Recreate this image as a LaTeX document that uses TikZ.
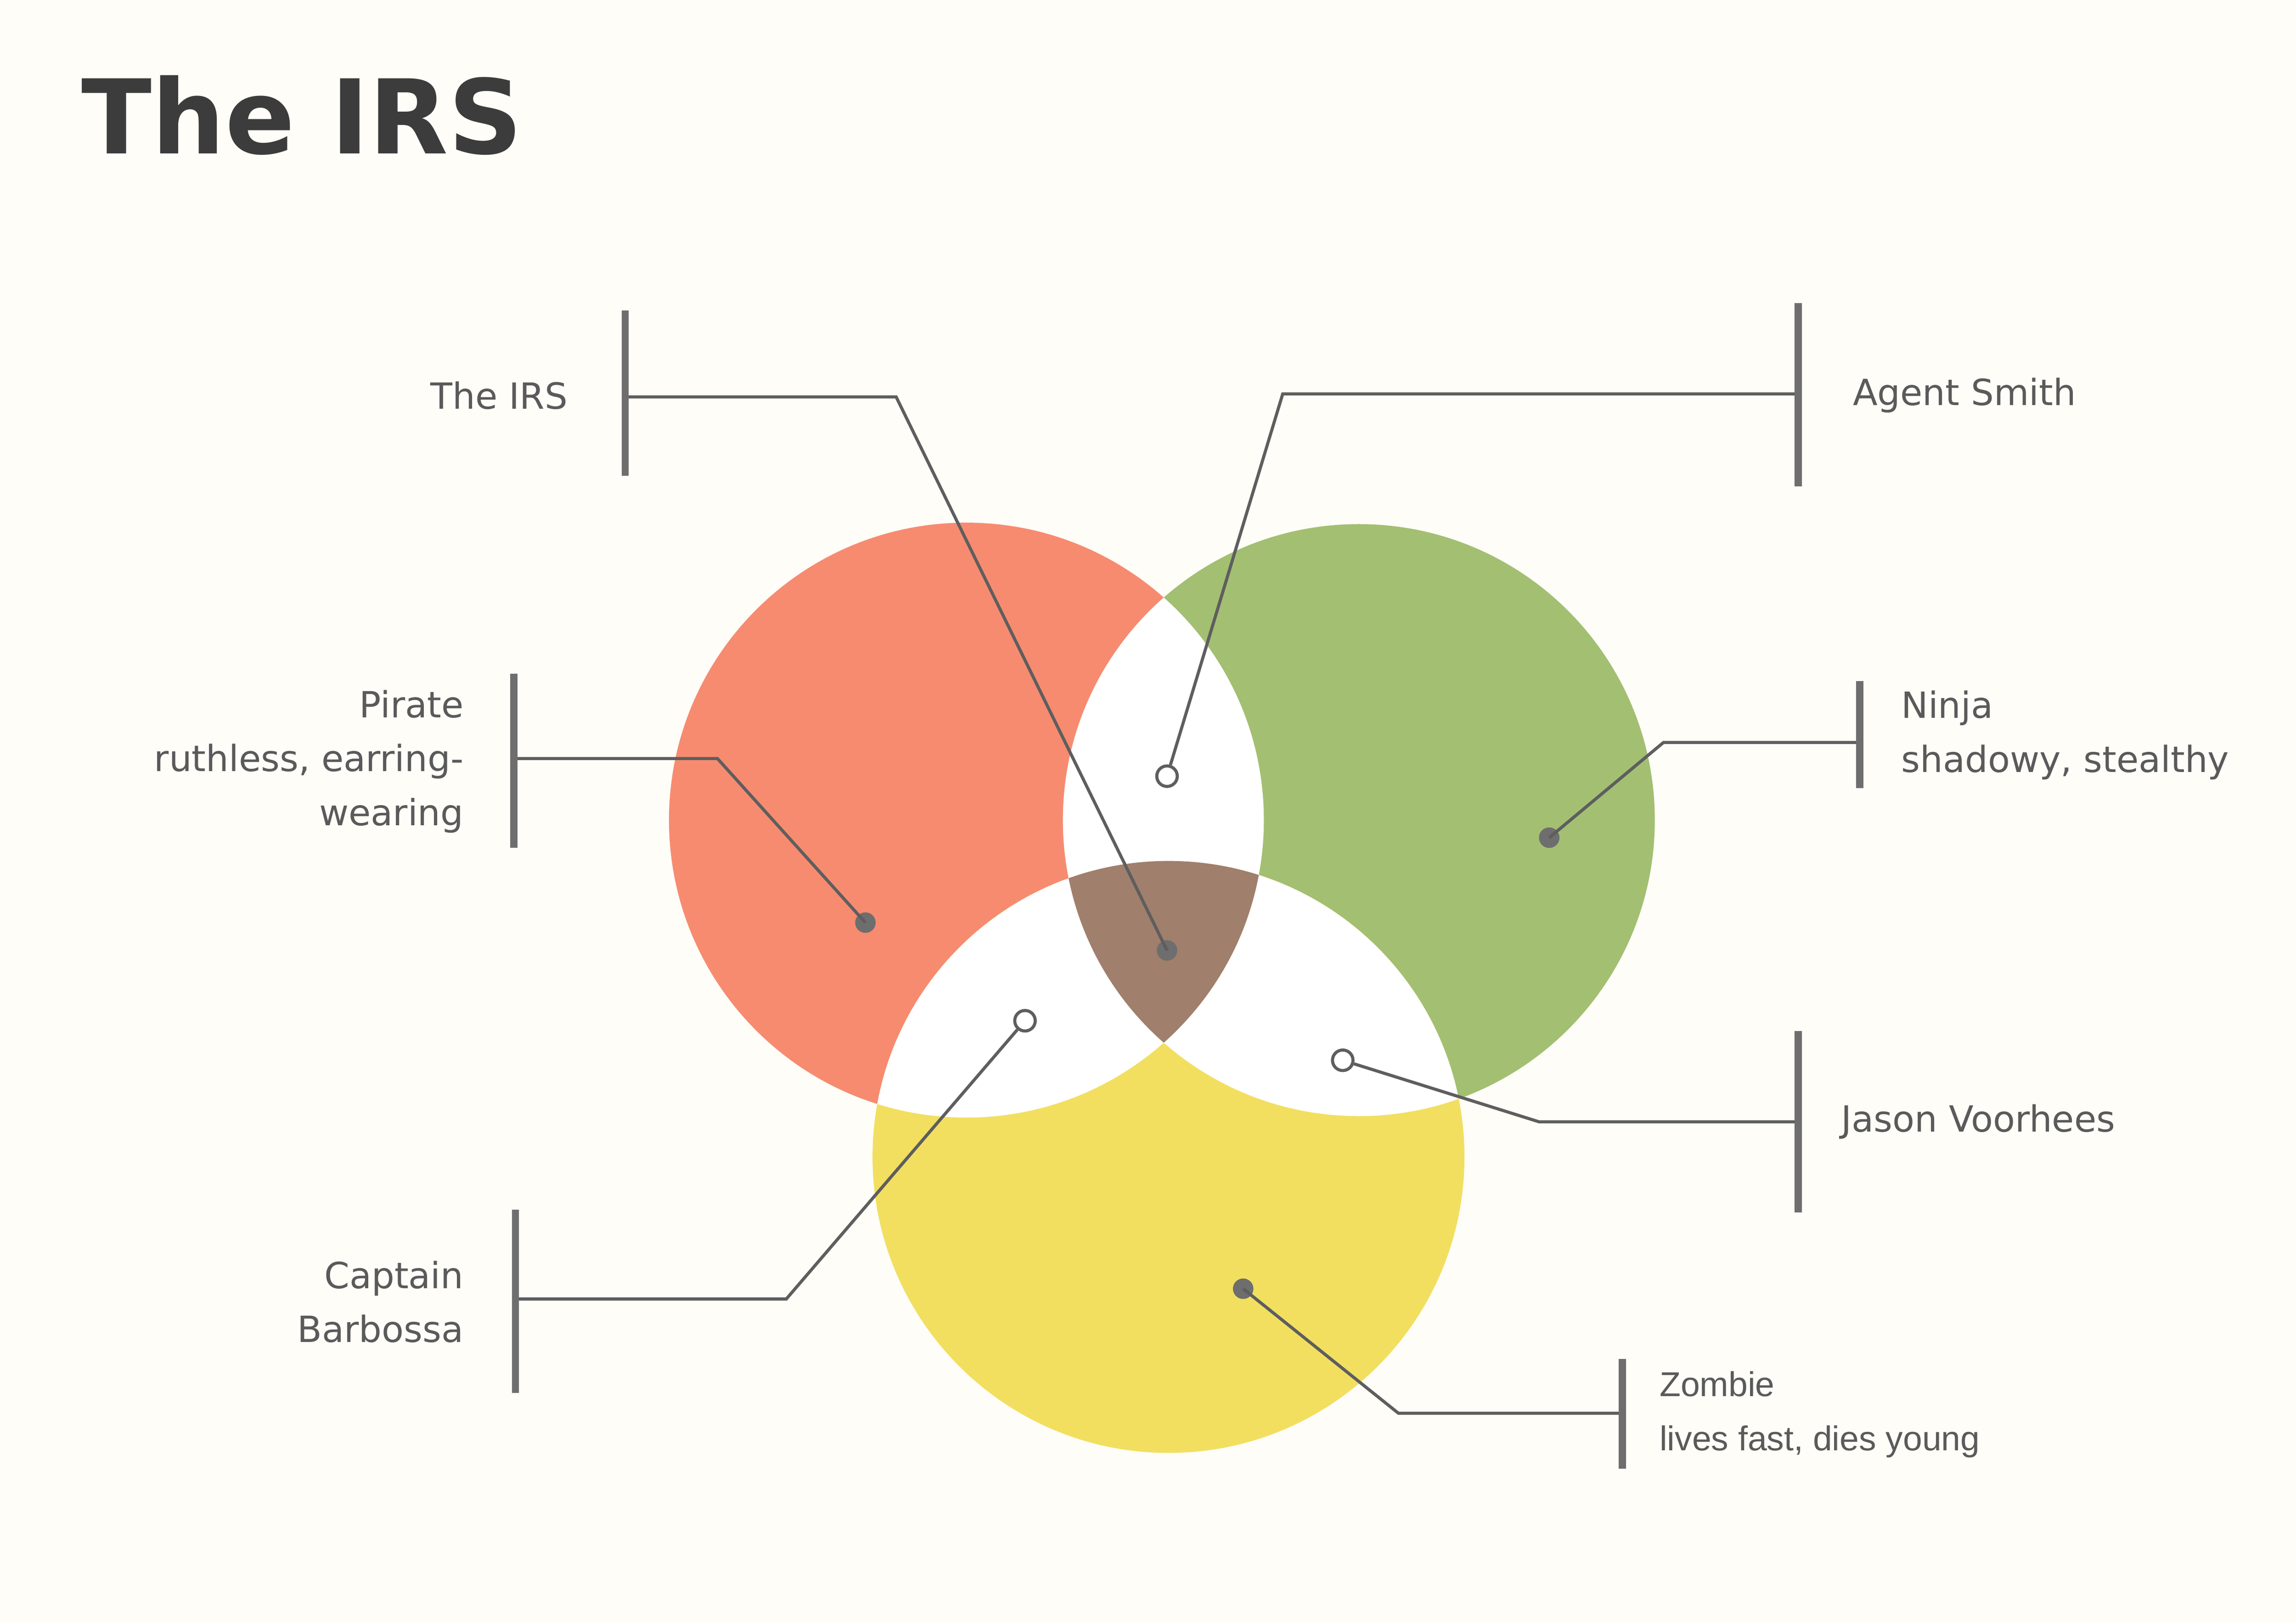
\documentclass[tikz,border=0pt]{standalone}
\usepackage{fontspec}
\setmainfont{DejaVu Sans}
\newfontfamily\arialf{Liberation Sans}
\definecolor{bg}{HTML}{FEFDF8}
\definecolor{cred}{HTML}{F78B70}
\definecolor{cgreen}{HTML}{A3BF72}
\definecolor{cyellow}{HTML}{F2DF60}
\definecolor{cbrown}{HTML}{A07F6C}
\definecolor{lg}{HTML}{5E5E5E}
\definecolor{tg}{HTML}{5A5A5A}
\definecolor{title}{HTML}{3C3C3C}
\begin{document}
\begin{tikzpicture}[x=0.01cm,y=-0.01cm,
  conn/.style={draw=lg,line width=0.6pt},
  barline/.style={draw=lg!90,line width=1.4pt},
  fdot/.style={circle,fill=lg!90,inner sep=0,minimum size=0.14cm},
  odot/.style={circle,draw=lg,fill=white,line width=0.6pt,inner sep=0,minimum size=0.14cm},
  lblr/.style={anchor=east,align=right,text=tg,font=\fontsize{7}{10.5}\selectfont},
  lbll/.style={anchor=west,align=left,text=tg,font=\fontsize{7}{10.5}\selectfont}]
\fill[bg] (0,0) rectangle (1568,1108);
\node[anchor=base west,inner sep=0,text=title,font=\fontsize{20}{24}\selectfont\bfseries] (title) at (55,105) {The IRS};
% circles
\fill[cred] (660,560) circle[radius=2.03cm];
\fill[cgreen] (928,560) circle[radius=2.02cm];
\fill[cyellow] (798,790) circle[radius=2.02cm];
\begin{scope}\clip (660,560) circle[radius=2.03cm]; \fill[white] (928,560) circle[radius=2.02cm]; \fill[white] (798,790) circle[radius=2.02cm];\end{scope}
\begin{scope}\clip (928,560) circle[radius=2.02cm]; \fill[white] (798,790) circle[radius=2.02cm];\end{scope}
\begin{scope}\clip (660,560) circle[radius=2.03cm]; \clip (928,560) circle[radius=2.02cm]; \fill[cbrown] (798,790) circle[radius=2.02cm];\end{scope}
% The IRS
\coordinate (b1t) at (427,212); \coordinate (b1b) at (427,325); \coordinate (b1m) at (427,271);
\coordinate (k1) at (612,271);
\node[lblr] (l1) at (400,270) {The IRS};
\node[fdot] (d1) at (797,649) {};
\draw[conn] (b1m) -- (k1) -- (d1.center);
\draw[barline] (b1t) -- (b1b);
% Agent Smith
\coordinate (b2t) at (1228,207); \coordinate (b2b) at (1228,332); \coordinate (b2m) at (1228,269);
\coordinate (k2) at (876,269);
\node[lbll] (l2) at (1253,270) {Agent Smith};
\node[odot] (d2) at (797,530) {};
\draw[conn] (b2m) -- (k2) -- (d2);
\draw[barline] (b2t) -- (b2b);
% Pirate
\coordinate (b3t) at (351,460); \coordinate (b3b) at (351,579); \coordinate (b3m) at (351,518);
\coordinate (k3) at (490,518);
\node[lblr] (l3) at (329,520) {Pirate\\ruthless, earring-\\wearing};
\node[fdot] (d3) at (591,630) {};
\draw[conn] (b3m) -- (k3) -- (d3.center);
\draw[barline] (b3t) -- (b3b);
% Ninja
\coordinate (b4t) at (1270,465); \coordinate (b4b) at (1270,538); \coordinate (b4m) at (1270,507);
\coordinate (k4) at (1136,507);
\node[lbll] (l4) at (1286,502) {Ninja\\shadowy, stealthy};
\node[fdot] (d4) at (1058,572) {};
\draw[conn] (b4m) -- (k4) -- (d4.center);
\draw[barline] (b4t) -- (b4b);
% Jason
\coordinate (b5t) at (1228,704); \coordinate (b5b) at (1228,828); \coordinate (b5m) at (1228,766);
\coordinate (k5) at (1051,766);
\node[lbll] (l5) at (1245,766) {Jason Voorhees};
\node[odot] (d5) at (917,724) {};
\draw[conn] (b5m) -- (k5) -- (d5);
\draw[barline] (b5t) -- (b5b);
% Captain Barbossa
\coordinate (b6t) at (352,826); \coordinate (b6b) at (352,951); \coordinate (b6m) at (352,887);
\coordinate (k6) at (537,887);
\node[lblr] (l6) at (329,889) {Captain\\Barbossa};
\node[odot] (d6) at (700,697) {};
\draw[conn] (b6m) -- (k6) -- (d6);
\draw[barline] (b6t) -- (b6b);
% Zombie
\coordinate (b7t) at (1108,928); \coordinate (b7b) at (1108,1003); \coordinate (b7m) at (1108,965);
\coordinate (k7) at (955,965);
\node[lbll,font=\arialf\fontsize{6.7}{10.5}\selectfont] (l7) at (1121,966) {Zombie\\lives fast, dies young};
\node[fdot] (d7) at (849,880) {};
\draw[conn] (b7m) -- (k7) -- (d7.center);
\draw[barline] (b7t) -- (b7b);
\end{tikzpicture}
\end{document}
